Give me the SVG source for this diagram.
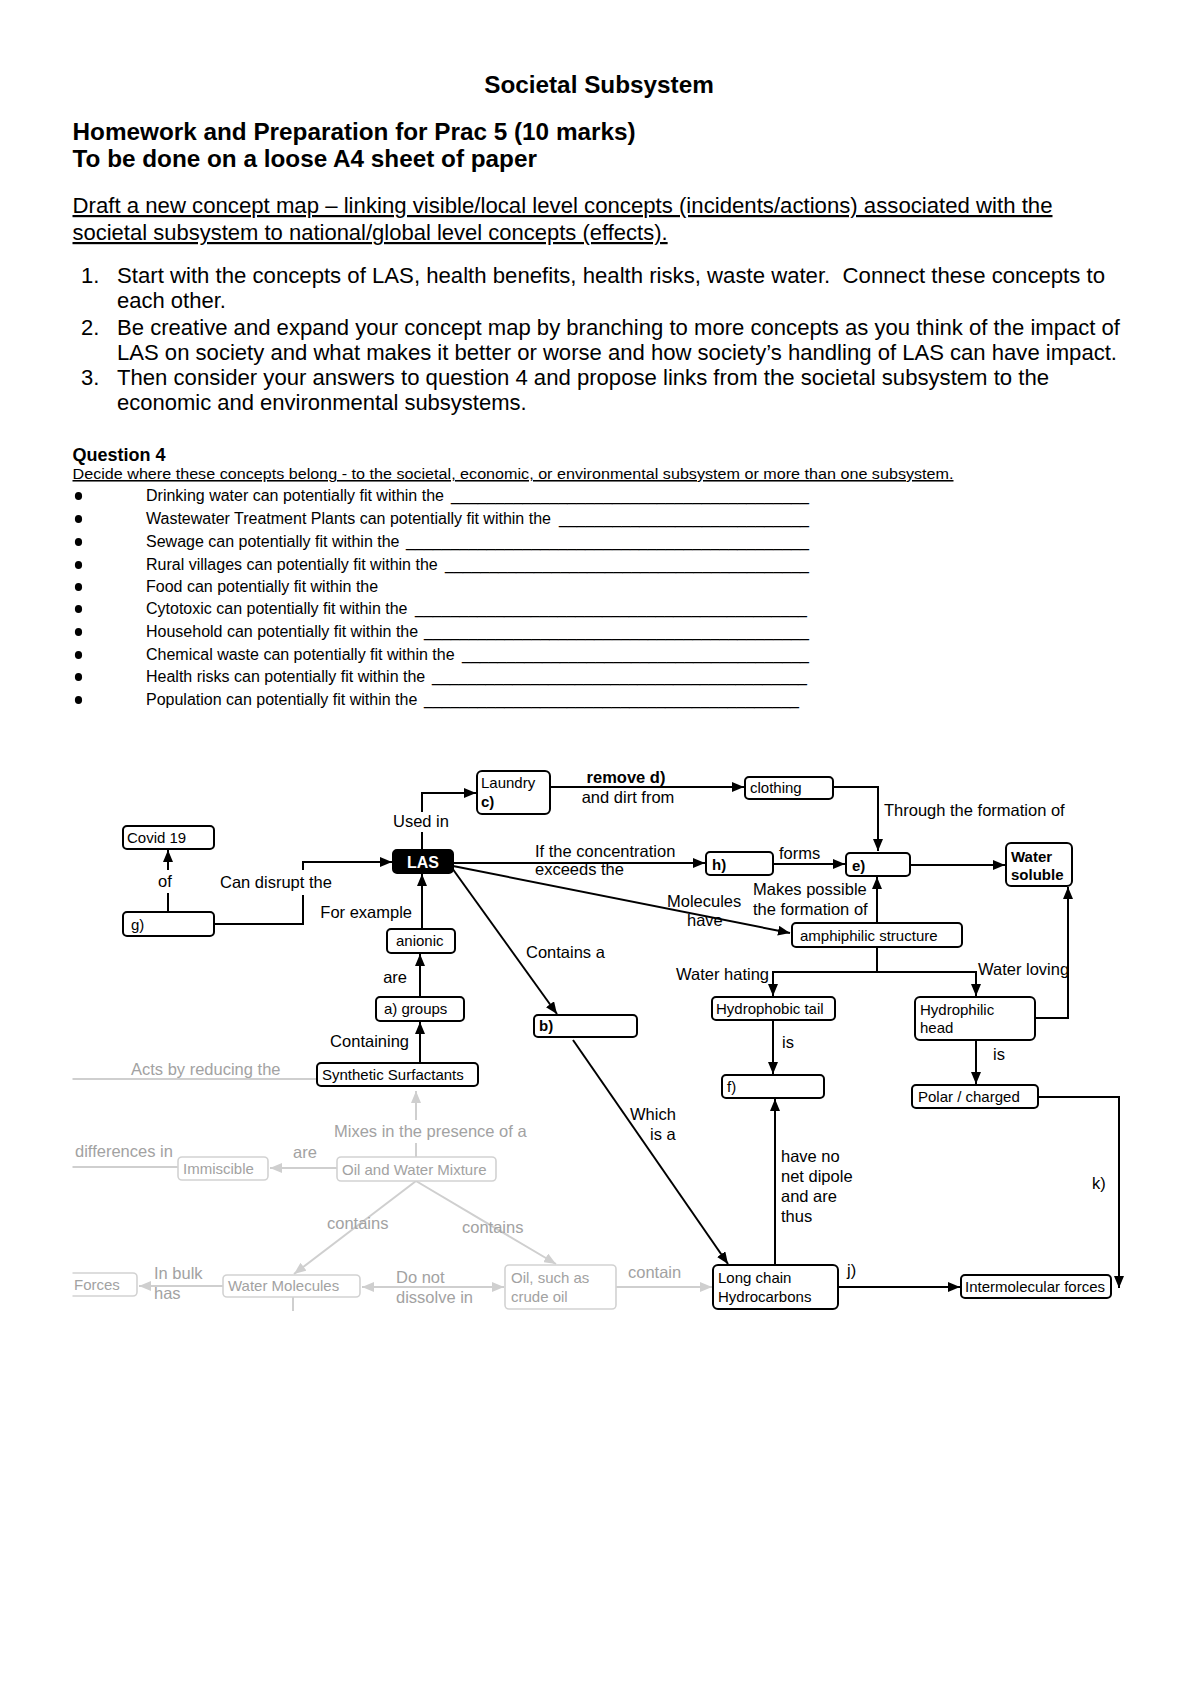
<svg xmlns="http://www.w3.org/2000/svg" width="1200" height="1698" viewBox="0 0 1200 1698">
<style>
text{font-family:"Liberation Sans",Arial,Helvetica,sans-serif;fill:#000}
.b{font-weight:bold}
.h1{font-size:24.3px;font-weight:bold}
.p{font-size:22px}
.q{font-size:16px}
.lbl{font-size:16.5px}
.nt{font-size:15px}
.box{fill:#fff;stroke:#000;stroke-width:2}
.fbox{fill:#fff;stroke:#d2d2d2;stroke-width:1.6}
.ft{fill:#a2a2a2}
.c{fill:none;stroke:#000;stroke-width:2}
.fc{fill:none;stroke:#cfcfcf;stroke-width:2}
</style>
<defs>
<marker id="arr" viewBox="0 0 12 10" refX="12" refY="5" markerWidth="12" markerHeight="10" markerUnits="userSpaceOnUse" orient="auto"><path d="M0,0 L12,5 L0,10 z" fill="#000"/></marker>
<marker id="farr" viewBox="0 0 12 10" refX="12" refY="5" markerWidth="12" markerHeight="10" markerUnits="userSpaceOnUse" orient="auto-start-reverse"><path d="M0,0 L12,5 L0,10 z" fill="#cfcfcf"/></marker>
<clipPath id="clipL"><rect x="72.5" y="1000" width="1100" height="320"/></clipPath>
</defs>
<rect x="0" y="0" width="1200" height="1698" fill="#fff"/>

<g id="header">
<text class="h1" x="599" y="93" text-anchor="middle">Societal Subsystem</text>
<text class="h1" x="72.5" y="140">Homework and Preparation for Prac 5 (10 marks)</text>
<text class="h1" x="72.5" y="167">To be done on a loose A4 sheet of paper</text>
<text class="p" x="72.5" y="213" text-decoration="underline" textLength="980" lengthAdjust="spacingAndGlyphs">Draft a new concept map – linking visible/local level concepts (incidents/actions) associated with the</text>
<text class="p" x="72.5" y="240" text-decoration="underline">societal subsystem to national/global level concepts (effects).</text>
<text class="p" x="81" y="283">1.</text>
<text class="p" x="117" y="283" textLength="988" lengthAdjust="spacingAndGlyphs">Start with the concepts of LAS, health benefits, health risks, waste water.&#160; Connect these concepts to</text>
<text class="p" x="117" y="308">each other.</text>
<text class="p" x="81" y="335">2.</text>
<text class="p" x="117" y="335" textLength="1003" lengthAdjust="spacingAndGlyphs">Be creative and expand your concept map by branching to more concepts as you think of the impact of</text>
<text class="p" x="117" y="360" textLength="1000" lengthAdjust="spacingAndGlyphs">LAS on society and what makes it better or worse and how society’s handling of LAS can have impact.</text>
<text class="p" x="81" y="385">3.</text>
<text class="p" x="117" y="385" textLength="932" lengthAdjust="spacingAndGlyphs">Then consider your answers to question 4 and propose links from the societal subsystem to the</text>
<text class="p" x="117" y="410">economic and environmental subsystems.</text>
</g>

<g id="question4">
<text class="b" x="72.5" y="461" font-size="18">Question 4</text>
<text x="72.5" y="479" font-size="15.5" text-decoration="underline" textLength="881" lengthAdjust="spacingAndGlyphs">Decide where these concepts belong - to the societal, economic, or environmental subsystem or more than one subsystem.</text>
<g fill="#000">
<ellipse cx="78.5" cy="496" rx="3.6" ry="4"/><ellipse cx="78.5" cy="519" rx="3.6" ry="4"/><ellipse cx="78.5" cy="542" rx="3.6" ry="4"/><ellipse cx="78.5" cy="565" rx="3.6" ry="4"/><ellipse cx="78.5" cy="587" rx="3.6" ry="4"/><ellipse cx="78.5" cy="609" rx="3.6" ry="4"/><ellipse cx="78.5" cy="632" rx="3.6" ry="4"/><ellipse cx="78.5" cy="655" rx="3.6" ry="4"/><ellipse cx="78.5" cy="677" rx="3.6" ry="4"/><ellipse cx="78.5" cy="700" rx="3.6" ry="4"/>
</g>
<text class="q" x="146" y="501">Drinking water can potentially fit within the</text>
<text class="q" x="451" y="501" textLength="358" lengthAdjust="spacingAndGlyphs">________________________________________</text>
<text class="q" x="146" y="524">Wastewater Treatment Plants can potentially fit within the</text>
<text class="q" x="559" y="524" textLength="250" lengthAdjust="spacingAndGlyphs">____________________________</text>
<text class="q" x="146" y="547">Sewage can potentially fit within the</text>
<text class="q" x="406" y="547" textLength="403" lengthAdjust="spacingAndGlyphs">_____________________________________________</text>
<text class="q" x="146" y="570">Rural villages can potentially fit within the</text>
<text class="q" x="445" y="570" textLength="364" lengthAdjust="spacingAndGlyphs">_________________________________________</text>
<text class="q" x="146" y="592">Food can potentially fit within the</text>
<text class="q" x="146" y="614">Cytotoxic can potentially fit within the</text>
<text class="q" x="415" y="614" textLength="392" lengthAdjust="spacingAndGlyphs">____________________________________________</text>
<text class="q" x="146" y="637">Household can potentially fit within the</text>
<text class="q" x="424" y="637" textLength="385" lengthAdjust="spacingAndGlyphs">___________________________________________</text>
<text class="q" x="146" y="660">Chemical waste can potentially fit within the</text>
<text class="q" x="462" y="660" textLength="347" lengthAdjust="spacingAndGlyphs">_______________________________________</text>
<text class="q" x="146" y="682">Health risks can potentially fit within the</text>
<text class="q" x="432" y="682" textLength="375" lengthAdjust="spacingAndGlyphs">__________________________________________</text>
<text class="q" x="146" y="705">Population can potentially fit within the</text>
<text class="q" x="424" y="705" textLength="375" lengthAdjust="spacingAndGlyphs">__________________________________________</text>
</g>

<g id="faded" clip-path="url(#clipL)">
<g id="faded-connectors">
<path class="fc" d="M416,1157 V1143 M416,1120 V1091" marker-end="url(#farr)"/>
<path class="fc" d="M337,1168 H270" marker-end="url(#farr)"/>
<path class="fc" d="M178,1167 H60"/>
<path class="fc" d="M316,1079 H60"/>
<path class="fc" d="M416,1181 L294,1274" marker-end="url(#farr)"/>
<path class="fc" d="M416,1181 L556,1264" marker-end="url(#farr)"/>
<path class="fc" d="M362,1287 H504" marker-start="url(#farr)" marker-end="url(#farr)"/>
<path class="fc" d="M223,1286 H139" marker-end="url(#farr)"/>
<path class="fc" d="M293,1297 V1311"/>
<path class="fc" d="M616,1287 H712" marker-end="url(#farr)"/>
<text class="lbl ft" x="131" y="1075">Acts by reducing the</text>
<text class="lbl ft" x="334" y="1137">Mixes in the presence of a</text>
<text class="lbl ft" x="293" y="1158">are</text>
<text class="lbl ft" x="75" y="1157">differences in</text>
<text class="lbl ft" x="327" y="1229">contains</text>
<text class="lbl ft" x="462" y="1233">contains</text>
<text class="lbl ft" x="396" y="1283">Do not</text>
<text class="lbl ft" x="396" y="1303">dissolve in</text>
<text class="lbl ft" x="154" y="1279">In bulk</text>
<text class="lbl ft" x="154" y="1299">has</text>
<text class="lbl ft" x="628" y="1278">contain</text>
</g>
<g id="n-immiscible"><rect class="fbox" x="178" y="1157" width="90" height="23" rx="4"/><text class="nt ft" x="183" y="1174">Immiscible</text></g>
<g id="n-oilwater"><rect class="fbox" x="337" y="1157" width="159" height="24" rx="4"/><text class="nt ft" x="342" y="1175">Oil and Water Mixture</text></g>
<g id="n-watermolecules"><rect class="fbox" x="223" y="1275" width="137" height="22" rx="4"/><text class="nt ft" x="228" y="1291">Water Molecules</text></g>
<g id="n-oil"><rect class="fbox" x="505" y="1265" width="111" height="44" rx="4"/><text class="nt ft" x="511" y="1283">Oil, such as</text><text class="nt ft" x="511" y="1302">crude oil</text></g>
<g id="n-forces"><rect class="fbox" x="55" y="1273" width="82" height="23" rx="4"/><text class="nt ft" x="74" y="1290">Forces</text></g>
</g>

<g id="connectors">
<path class="c" d="M422,850 V832 M422,812 V793 H476" marker-end="url(#arr)"/>
<path class="c" d="M550,787 H744" marker-end="url(#arr)"/>
<path class="c" d="M833,787 H878 V851" marker-end="url(#arr)"/>
<path class="c" d="M453,863 H705" marker-end="url(#arr)"/>
<path class="c" d="M773,864 H845" marker-end="url(#arr)"/>
<path class="c" d="M910,865 H1005" marker-end="url(#arr)"/>
<path class="c" d="M453,866 L790,933" marker-end="url(#arr)"/>
<path class="c" d="M877,923 V877" marker-end="url(#arr)"/>
<path class="c" d="M877,947 V972 M773,972 H976"/>
<path class="c" d="M773,971 V996" marker-end="url(#arr)"/>
<path class="c" d="M976,971 V996" marker-end="url(#arr)"/>
<path class="c" d="M1035,1018 H1068 V887" marker-end="url(#arr)"/>
<path class="c" d="M773,1020 V1074" marker-end="url(#arr)"/>
<path class="c" d="M976,1040 V1084" marker-end="url(#arr)"/>
<path class="c" d="M1038,1097 H1119 V1288" marker-end="url(#arr)"/>
<path class="c" d="M838,1287 H960" marker-end="url(#arr)"/>
<path class="c" d="M775,1265 V1099" marker-end="url(#arr)"/>
<path class="c" d="M573,1040 L728,1264" marker-end="url(#arr)"/>
<path class="c" d="M452,868 L557,1014" marker-end="url(#arr)"/>
<path class="c" d="M214,924 H303 V895 M303,870 V862 H392" marker-end="url(#arr)"/>
<path class="c" d="M168,912 V893 M168,870 V850" marker-end="url(#arr)"/>
<path class="c" d="M422,929 V874" marker-end="url(#arr)"/>
<path class="c" d="M420,997 V954" marker-end="url(#arr)"/>
<path class="c" d="M420,1063 V1022" marker-end="url(#arr)"/>
<text class="lbl" x="421" y="827" text-anchor="middle">Used in</text>
<text class="lbl" x="220" y="888">Can disrupt the</text>
<text class="lbl" x="165" y="887" text-anchor="middle">of</text>
<text class="lbl" x="412" y="918" text-anchor="end">For example</text>
<text class="lbl" x="407" y="983" text-anchor="end">are</text>
<text class="lbl" x="409" y="1047" text-anchor="end">Containing</text>
<text class="lbl b" x="626" y="783" text-anchor="middle">remove d)</text>
<text class="lbl" x="628" y="803" text-anchor="middle">and dirt from</text>
<text class="lbl" x="884" y="816">Through the formation of</text>
<text class="lbl" x="535" y="857">If the concentration</text>
<text class="lbl" x="535" y="875">exceeds the</text>
<text class="lbl" x="779" y="859">forms</text>
<text class="lbl" x="667" y="907">Molecules</text>
<text class="lbl" x="687" y="926">have</text>
<text class="lbl" x="753" y="895">Makes possible</text>
<text class="lbl" x="753" y="915">the formation of</text>
<text class="lbl" x="526" y="958">Contains a</text>
<text class="lbl" x="769" y="980" text-anchor="end">Water hating</text>
<text class="lbl" x="978" y="975">Water loving</text>
<text class="lbl" x="782" y="1048">is</text>
<text class="lbl" x="993" y="1060">is</text>
<text class="lbl" x="630" y="1120">Which</text>
<text class="lbl" x="650" y="1140">is a</text>
<text class="lbl" x="781" y="1162">have no</text>
<text class="lbl" x="781" y="1182">net dipole</text>
<text class="lbl" x="781" y="1202">and are</text>
<text class="lbl" x="781" y="1222">thus</text>
<text class="lbl" x="1092" y="1189">k)</text>
<text class="lbl" x="847" y="1276">j)</text>
</g>

<g id="n-laundry"><rect class="box" x="477" y="771" width="73" height="43" rx="5"/><text class="nt" x="481" y="788">Laundry</text><text class="nt b" x="481" y="807">c)</text></g>
<g id="n-clothing"><rect class="box" x="745" y="777" width="88" height="22" rx="4"/><text class="nt" x="750" y="793">clothing</text></g>
<g id="n-las"><rect x="393" y="850" width="60" height="23" rx="4" fill="#000" stroke="#000" stroke-width="2"/><text class="b" x="423" y="868" font-size="16" text-anchor="middle" style="fill:#fff">LAS</text></g>
<g id="n-h"><rect class="box" x="706" y="852" width="67" height="23" rx="4"/><text class="nt b" x="712" y="870">h)</text></g>
<g id="n-e"><rect class="box" x="846" y="853" width="64" height="23" rx="4"/><text class="nt b" x="852" y="871">e)</text></g>
<g id="n-watersoluble"><rect class="box" x="1006" y="843" width="66" height="43" rx="5"/><text class="nt b" x="1011" y="862">Water</text><text class="nt b" x="1011" y="880">soluble</text></g>
<g id="n-covid"><rect class="box" x="123" y="826" width="91" height="23" rx="4"/><text class="nt" x="127" y="843">Covid 19</text></g>
<g id="n-g"><rect class="box" x="123" y="912" width="91" height="24" rx="4"/><text class="nt" x="131" y="930">g)</text></g>
<g id="n-anionic"><rect class="box" x="387" y="929" width="68" height="24" rx="4"/><text class="nt" x="396" y="946">anionic</text></g>
<g id="n-amphiphilic"><rect class="box" x="792" y="923" width="170" height="24" rx="4"/><text class="nt" x="800" y="941">amphiphilic structure</text></g>
<g id="n-agroups"><rect class="box" x="376" y="997" width="88" height="24" rx="4"/><text class="nt" x="384" y="1014">a) groups</text></g>
<g id="n-b"><rect class="box" x="534" y="1015" width="103" height="22" rx="4"/><text class="nt b" x="539" y="1031">b)</text></g>
<g id="n-tail"><rect class="box" x="712" y="997" width="123" height="23" rx="4"/><text class="nt" x="716" y="1014">Hydrophobic tail</text></g>
<g id="n-head"><rect class="box" x="915" y="997" width="120" height="43" rx="5"/><text class="nt" x="920" y="1015">Hydrophilic</text><text class="nt" x="920" y="1033">head</text></g>
<g id="n-synthetic"><rect class="box" x="317" y="1063" width="161" height="23" rx="4"/><text class="nt" x="322" y="1080">Synthetic Surfactants</text></g>
<g id="n-f"><rect class="box" x="722" y="1075" width="102" height="23" rx="4"/><text class="nt" x="727" y="1092">f)</text></g>
<g id="n-polar"><rect class="box" x="912" y="1085" width="126" height="23" rx="4"/><text class="nt" x="918" y="1102">Polar / charged</text></g>
<g id="n-longchain"><rect class="box" x="713" y="1265" width="125" height="44" rx="5"/><text class="nt" x="718" y="1283">Long chain</text><text class="nt" x="718" y="1302">Hydrocarbons</text></g>
<g id="n-intermolecular"><rect class="box" x="961" y="1275" width="150" height="23" rx="4"/><text class="nt" x="965" y="1292">Intermolecular forces</text></g>
</svg>
